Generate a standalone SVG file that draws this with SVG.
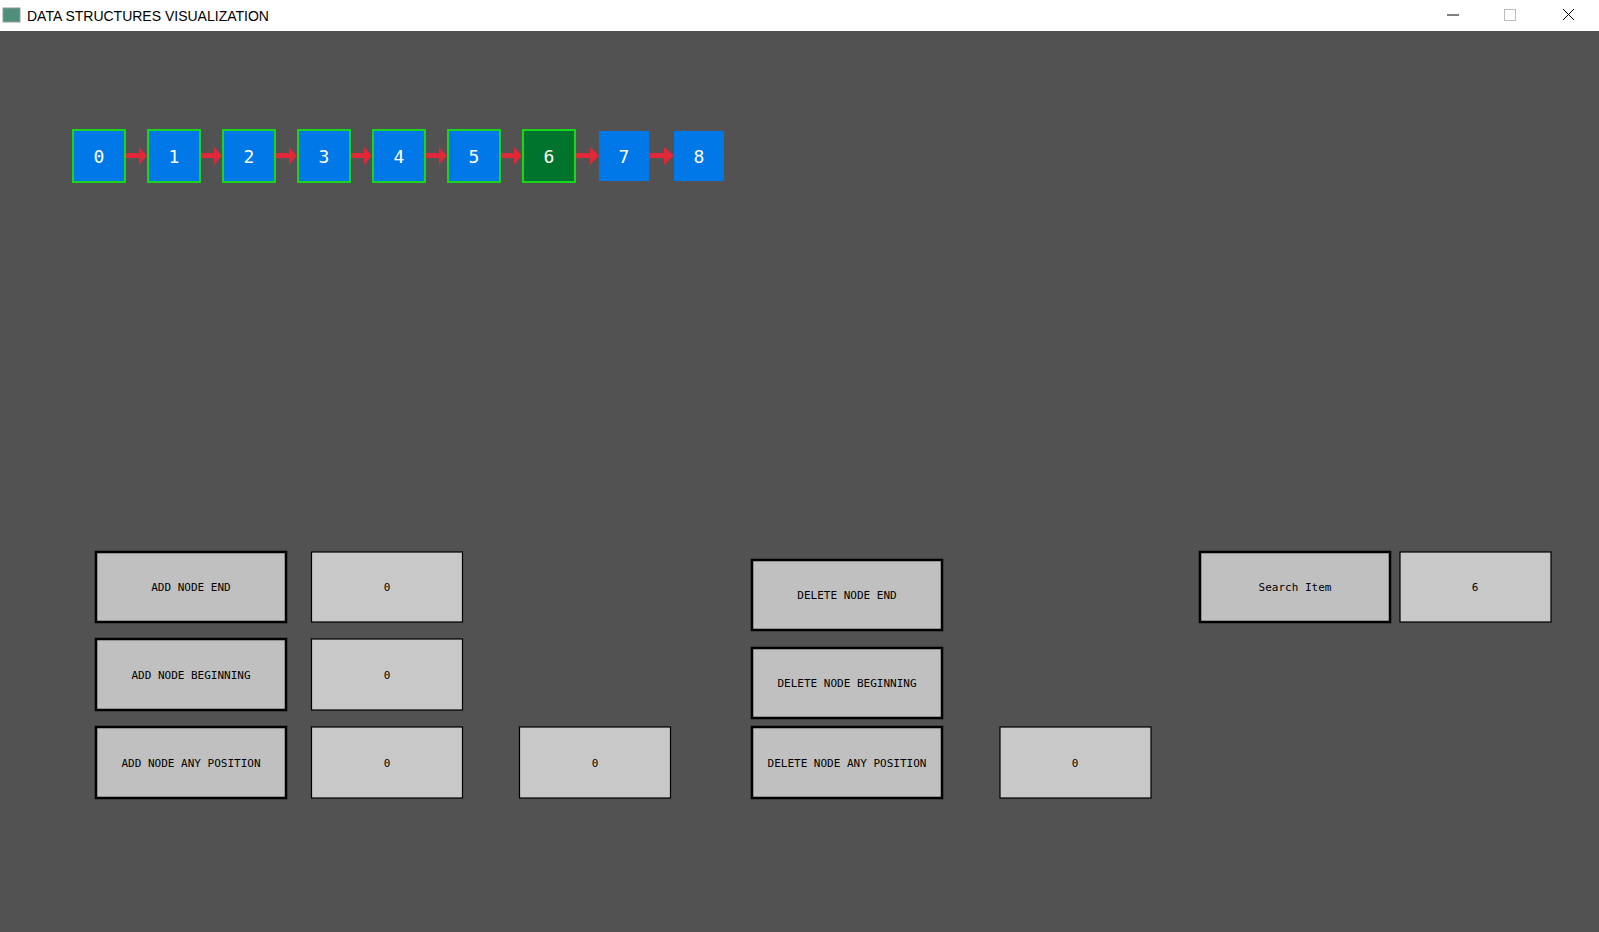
<svg xmlns="http://www.w3.org/2000/svg" width="1599" height="932" viewBox="0 0 1599 932">
<style>
.btn{fill:#c0c0c0;stroke:#000;stroke-width:2.5}
.val{fill:#c8c8c8;stroke:#000;stroke-width:1.2}
.bt{font-family:"DejaVu Sans Mono",monospace;font-size:11px;fill:#000;text-anchor:middle;dominant-baseline:central}
.nd{fill:#0078e8}
.ng{stroke:#1ad61a;stroke-width:2}
.nt{font-family:"DejaVu Sans Mono",monospace;font-size:18px;fill:#fff;text-anchor:middle;dominant-baseline:central}
.ar{fill:#e02838}
</style>
<rect width="1599" height="932" fill="#525252"/>
<rect width="1599" height="31" fill="#fff"/>
<rect x="3" y="8" width="17" height="14" fill="#4d8f7a" stroke="#999"/>
<text x="27" y="21" font-family="Liberation Sans,sans-serif" font-size="14" fill="#000">DATA STRUCTURES VISUALIZATION</text>
<line x1="1447" y1="15" x2="1459" y2="15" stroke="#000"/>
<rect x="1504.5" y="9.5" width="11" height="11" fill="none" stroke="#bbb"/>
<path d="M1563 9 L1574 20 M1574 9 L1563 20" stroke="#000"/>
<g id="connectors">
<g class="ar">
<rect x="126" y="153" width="14" height="5"/><path d="M139 147 L147 155.5 L139 165Z"/>
<rect x="201" y="153" width="14" height="5"/><path d="M214 147 L222 155.5 L214 165Z"/>
<rect x="276" y="153" width="14" height="5"/><path d="M289 147 L297 155.5 L289 165Z"/>
<rect x="351" y="153" width="14" height="5"/><path d="M364 147 L372 155.5 L364 165Z"/>
<rect x="426" y="153" width="14" height="5"/><path d="M439 147 L447 155.5 L439 165Z"/>
<rect x="501" y="153" width="14" height="5"/><path d="M514 147 L522 155.5 L514 165Z"/>
<rect x="576" y="153" width="15" height="5"/><path d="M590 147 L599 155.5 L590 165Z"/>
<rect x="649" y="153" width="16" height="5"/><path d="M664 147 L674 155.5 L664 165Z"/>
</g>
</g>
<g id="n0"><rect class="nd ng" x="73" y="130" width="52" height="52"/><text class="nt" x="99" y="156">0</text></g>
<g id="n1"><rect class="nd ng" x="148" y="130" width="52" height="52"/><text class="nt" x="174" y="156">1</text></g>
<g id="n2"><rect class="nd ng" x="223" y="130" width="52" height="52"/><text class="nt" x="249" y="156">2</text></g>
<g id="n3"><rect class="nd ng" x="298" y="130" width="52" height="52"/><text class="nt" x="324" y="156">3</text></g>
<g id="n4"><rect class="nd ng" x="373" y="130" width="52" height="52"/><text class="nt" x="399" y="156">4</text></g>
<g id="n5"><rect class="nd ng" x="448" y="130" width="52" height="52"/><text class="nt" x="474" y="156">5</text></g>
<g id="n6"><rect class="ng" fill="#00742c" x="523" y="130" width="52" height="52"/><text class="nt" x="549" y="156">6</text></g>
<g id="n7"><rect class="nd" x="599" y="131" width="50" height="50"/><text class="nt" x="624" y="156">7</text></g>
<g id="n8"><rect class="nd" x="674" y="131" width="50" height="50"/><text class="nt" x="699" y="156">8</text></g>
<g id="addEnd"><rect class="btn" x="96" y="552" width="190" height="70"/><text class="bt" x="191" y="587">ADD NODE END</text></g>
<g id="addEndVal"><rect class="val" x="311.5" y="552" width="151" height="70"/><text class="bt" x="387" y="587">0</text></g>
<g id="addBeg"><rect class="btn" x="96" y="639" width="190" height="71"/><text class="bt" x="191" y="675">ADD NODE BEGINNING</text></g>
<g id="addBegVal"><rect class="val" x="311.5" y="639" width="151" height="71"/><text class="bt" x="387" y="675">0</text></g>
<g id="addAny"><rect class="btn" x="96" y="727" width="190" height="71"/><text class="bt" x="191" y="763">ADD NODE ANY POSITION</text></g>
<g id="addAnyVal"><rect class="val" x="311.5" y="727" width="151" height="71"/><text class="bt" x="387" y="763">0</text></g>
<g id="addAnyPos"><rect class="val" x="519.5" y="727" width="151" height="71"/><text class="bt" x="595" y="763">0</text></g>
<g id="delEnd"><rect class="btn" x="752" y="560" width="190" height="70"/><text class="bt" x="847" y="595">DELETE NODE END</text></g>
<g id="delBeg"><rect class="btn" x="752" y="648" width="190" height="70"/><text class="bt" x="847" y="683">DELETE NODE BEGINNING</text></g>
<g id="delAny"><rect class="btn" x="752" y="727" width="190" height="71"/><text class="bt" x="847" y="763">DELETE NODE ANY POSITION</text></g>
<g id="delAnyVal"><rect class="val" x="1000" y="727" width="151" height="71"/><text class="bt" x="1075" y="763">0</text></g>
<g id="search"><rect class="btn" x="1200" y="552" width="190" height="70"/><text class="bt" x="1295" y="587">Search Item</text></g>
<g id="searchVal"><rect class="val" x="1400" y="552" width="151" height="70"/><text class="bt" x="1475" y="587">6</text></g>
</svg>
